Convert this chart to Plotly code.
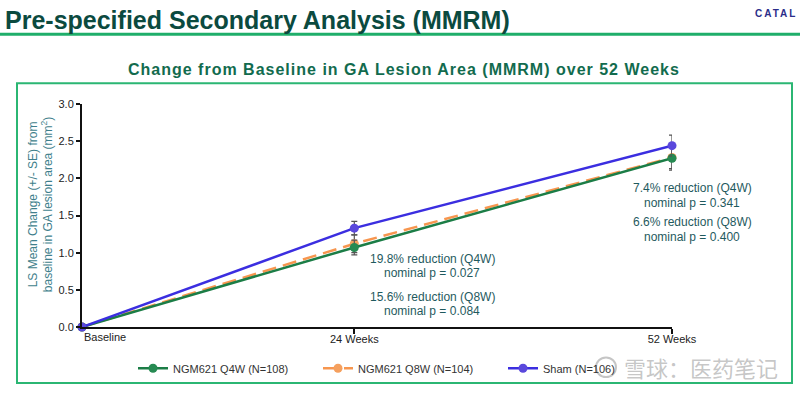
import plotly.graph_objects as go

# ---------------- data ----------------
weeks = [0, 24, 52]
tick_labels = ["Baseline", "24 Weeks", "52 Weeks"]

series_names = ["NGM621 Q4W (N=108)", "NGM621 Q8W (N=104)", "Sham (N=106)"]
q4w_mean = [0.0, 1.07, 2.27]
q4w_se = [0.0, 0.10, 0.16]
q8w_mean = [0.0, 1.12, 2.28]
q8w_se = [0.0, 0.12, 0.15]
sham_mean = [0.0, 1.33, 2.44]
sham_se = [0.0, 0.09, 0.14]

notes_24 = ["19.8% reduction (Q4W)", "nominal p = 0.027", "15.6% reduction (Q8W)", "nominal p = 0.084"]
notes_52 = ["7.4% reduction (Q4W)", "nominal p = 0.341", "6.6% reduction (Q8W)", "nominal p = 0.400"]

header_title = "Pre-specified Secondary Analysis (MMRM)"
chart_title = "Change from Baseline in GA Lesion Area (MMRM) over 52 Weeks"
y_title = "LS Mean Change (+/- SE) from<br>baseline in GA lesion area (mm<sup>2</sup>)"

# ---------------- layout helpers ----------------
W, H = 800, 395
ML, MR, MT, MB = 82, 128, 104, 64
PW, PH = W - ML - MR, H - MT - MB


def px(x):
    return (x - ML) / PW


def py(y):
    return (H - MB - y) / PH


FONT = "Arial, Liberation Sans, sans-serif"
NOTE_COLOR = "#1f5a5e"

fig = go.Figure()

err_style = dict(type="data", thickness=1.2, width=3, color="#555555")

fig.add_trace(go.Scatter(
    x=weeks, y=q8w_mean, name=series_names[1], legendrank=2,
    mode="lines+markers",
    line=dict(color="#f7964f", width=2.5, dash="14px,7px"),
    marker=dict(color="#f5a05e", size=9),
    error_y=dict(array=q8w_se, **err_style),
    cliponaxis=False,
))
fig.add_trace(go.Scatter(
    x=weeks, y=q4w_mean, name=series_names[0], legendrank=1,
    mode="lines+markers",
    line=dict(color="#1b7d46", width=2.5),
    marker=dict(color="#268a52", size=9),
    error_y=dict(array=q4w_se, **err_style),
    cliponaxis=False,
))
fig.add_trace(go.Scatter(
    x=weeks, y=sham_mean, name=series_names[2], legendrank=3,
    mode="lines+markers",
    line=dict(color="#3b2ee0", width=2.5),
    marker=dict(color="#5a48dc", size=9),
    error_y=dict(array=sham_se, **err_style),
    cliponaxis=False,
))

annotations = []
# header title
annotations.append(dict(
    text=f"<b>{header_title}</b>", xref="paper", yref="paper",
    x=px(3), y=py(19), xanchor="left", yanchor="middle", showarrow=False,
    font=dict(family=FONT, size=25, color="#0b4a3f"),
))
# logo fragment
annotations.append(dict(
    text="<b><span style='letter-spacing:2px'>CATAL</span></b>", xref="paper", yref="paper",
    x=px(799), y=py(12), xanchor="right", yanchor="middle", showarrow=False,
    font=dict(family=FONT, size=10, color="#2b2d8a"),
))
# chart title
annotations.append(dict(
    text=f"<b><span style='letter-spacing:1px'>{chart_title}</span></b>", xref="paper", yref="paper",
    x=px(404), y=py(69), xanchor="center", yanchor="middle", showarrow=False,
    font=dict(family=FONT, size=16, color="#126b4e"),
))
# y-axis title
annotations.append(dict(
    text=y_title, xref="paper", yref="paper",
    x=px(41), y=py(207), xanchor="center", yanchor="middle", showarrow=False,
    textangle=-90, font=dict(family=FONT, size=12, color="#3f7f8c"),
))
# Baseline tick label
annotations.append(dict(
    text=tick_labels[0], xref="x", yref="paper",
    x=weeks[0], y=py(341), xanchor="left", yanchor="middle", showarrow=False,
    font=dict(family=FONT, size=11, color="#222222"),
))
# notes
for txt, yy in zip(notes_24, [262, 276, 300, 315]):
    annotations.append(dict(
        text=txt, xref="paper", yref="paper", x=px(432), y=py(yy),
        xanchor="center", yanchor="middle", showarrow=False,
        font=dict(family=FONT, size=12, color=NOTE_COLOR),
    ))
for txt, yy in zip(notes_52, [190, 205, 224, 239]):
    annotations.append(dict(
        text=txt, xref="paper", yref="paper", x=px(692), y=py(yy),
        xanchor="center", yanchor="middle", showarrow=False,
        font=dict(family=FONT, size=12, color=NOTE_COLOR),
    ))
# watermark
annotations.append(dict(
    text="雪球：医药笔记", xref="paper", yref="paper", x=px(622), y=py(372),
    xanchor="left", yanchor="middle", showarrow=False,
    font=dict(family="Noto Sans CJK SC, sans-serif", size=22, color="rgba(150,150,150,0.55)"),
))

shapes = [
    dict(type="line", xref="paper", yref="paper", x0=px(0), x1=px(800), y0=py(33), y1=py(33),
         line=dict(color="#1fae6a", width=3)),
    dict(type="rect", xref="paper", yref="paper", x0=px(17), x1=px(792), y0=py(83), y1=py(388),
         line=dict(color="#2bb673", width=2)),
    dict(type="circle", xref="paper", yref="paper", x0=px(596), x1=px(616), y0=py(362), y1=py(382),
         line=dict(color="rgba(150,150,150,0.55)", width=2)),
]

fig.update_layout(
    width=W, height=H,
    margin=dict(l=ML, r=MR, t=MT, b=MB),
    plot_bgcolor="white", paper_bgcolor="white",
    showlegend=True,
    legend=dict(
        orientation="h", x=px(133), y=py(373), xanchor="left", yanchor="middle",
        font=dict(family=FONT, size=11, color="#333333"),
        entrywidth=140, entrywidthmode="pixels",
        bgcolor="rgba(0,0,0,0)", itemwidth=30,
    ),
    annotations=annotations,
    shapes=shapes,
    font=dict(family=FONT),
)

fig.update_xaxes(
    range=[0, 52], tickvals=weeks[1:], ticktext=tick_labels[1:],
    showline=True, linecolor="#111111", linewidth=2, showgrid=False, zeroline=False,
    ticks="outside", ticklen=5, tickwidth=2, tickcolor="#111111",
    tickfont=dict(family=FONT, size=11, color="#222222"),
    ticklabelstandoff=-4,
)
fig.update_yaxes(
    range=[0, 3], dtick=0.5, tickformat=".1f",
    showline=True, linecolor="#111111", linewidth=2, showgrid=False, zeroline=False,
    ticks="outside", ticklen=4, tickwidth=2, tickcolor="#111111",
    tickfont=dict(family=FONT, size=11, color="#222222"),
)

fig.write_html(
    "out.html",
    config={"displayModeBar": False},
    post_script="document.body.style.margin='0';document.body.style.overflow='hidden';",
)
